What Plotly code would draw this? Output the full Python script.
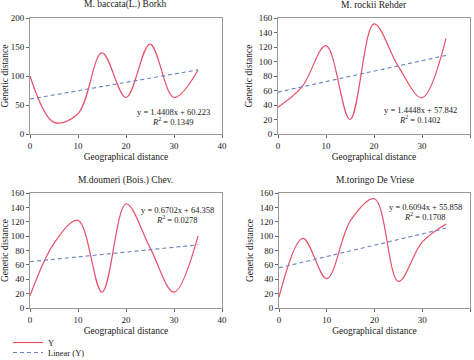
import plotly.graph_objects as go

W, H = 474, 360

x_vals = [0, 5, 10, 15, 20, 25, 30, 35]
titles = ["M. baccata(L.) Borkh", "M. rockii Rehder", "M.doumeri (Bois.) Chev.", "M.toringo De Vriese"]
y_baccata = [100, 20, 35, 140, 63, 155, 63, 110]
y_rockii = [37, 65, 122, 20, 152, 94, 50, 132]
y_doumeri = [17, 90, 122, 22, 145, 84, 22, 100]
y_toringo = [15, 97, 41, 122, 152, 37, 92, 117]
series = [y_baccata, y_rockii, y_doumeri, y_toringo]
eq_text = ["y = 1.4408x + 60.223", "y = 1.4448x + 57.842", "y = 0.6702x + 64.358", "y = 0.6094x + 55.858"]
r2_text = ["0.1349", "0.1402", "0.0278", "0.1708"]
# dashed trend line as drawn in the picture (start at x=0, end at x=35)
lin_x = [0, 35]
lin_start = [60.2, 57.8, 64.4, 55.9]
lin_end = [110.6, 108.4, 87.8, 111.0]
y_max = [200, 160, 160, 160]
y_dtick = [50, 20, 20, 20]

RED = "#e8506a"
BLUE = "#6b80c0"
FONT = "Liberation Serif"
TXT = "#222"

# plot areas in pixels (x0, x1, y_top, y_bottom)
boxes = [(30, 222, 18, 134), (278, 470, 18, 134), (30, 222, 193, 308), (279, 470, 193, 308)]

fig = go.Figure()
layout = {}
annotations = []
for i in range(4):
    n = i + 1
    xa = "x" if n == 1 else f"x{n}"
    ya = "y" if n == 1 else f"y{n}"
    fig.add_trace(go.Scatter(x=x_vals, y=series[i], mode="lines",
                             line=dict(color=RED, width=1.2, shape="spline", smoothing=1.0),
                             name="Y", showlegend=(i == 0), legend="legend",
                             xaxis=xa, yaxis=ya))
    fig.add_trace(go.Scatter(x=lin_x, y=[lin_start[i], lin_end[i]], mode="lines",
                             line=dict(color=BLUE, width=1.1, dash="4px,3px"),
                             name="Linear (Y)", showlegend=(i == 0), legend="legend2",
                             xaxis=xa, yaxis=ya))
    x0, x1, t, b = boxes[i]
    axcommon = dict(showline=True, mirror=True, linecolor="#999", linewidth=1,
                    ticks="outside", ticklen=3, tickcolor="#666", showgrid=False,
                    zeroline=False, tickfont=dict(family=FONT, size=9, color=TXT))
    layout["xaxis" if n == 1 else f"xaxis{n}"] = dict(
        domain=[x0 / W, x1 / W], range=[0, 40], dtick=10,
        anchor=ya, **axcommon,
        title=dict(text="Geographical distance", font=dict(family=FONT, size=9.5, color=TXT), standoff=3))
    layout["yaxis" if n == 1 else f"yaxis{n}"] = dict(
        domain=[1 - b / H, 1 - t / H], range=[0, y_max[i]], dtick=y_dtick[i],
        anchor=xa, **axcommon,
        title=dict(text="Genetic distance", font=dict(family=FONT, size=9.5, color=TXT), standoff=4))
    annotations.append(dict(text=titles[i], x=(x0 + x1) / 2 / W, y=1 - (t - 13) / H,
                            xref="paper", yref="paper", showarrow=False,
                            font=dict(family=FONT, size=9.5, color=TXT),
                            xanchor="center", yanchor="middle"))

# equation label centres in pixels: (x, y_line1, y_line2)
eq_pos = [(173, 112, 121), (420, 110, 119), (177, 210, 219), (425, 207, 216)]
for i in range(4):
    ex, ey1, ey2 = eq_pos[i]
    annotations.append(dict(text=eq_text[i], x=ex / W, y=1 - (ey1 - 0.5) / H, xref="paper", yref="paper",
                            showarrow=False, xanchor="center", yanchor="middle",
                            font=dict(family=FONT, size=8.5, color=TXT)))
    annotations.append(dict(text=f"<i>R</i><sup>2</sup> = {r2_text[i]}", x=ex / W, y=1 - (ey2 + 0.5) / H,
                            xref="paper", yref="paper",
                            showarrow=False, xanchor="center", yanchor="middle",
                            font=dict(family=FONT, size=8.5, color=TXT)))

legend_common = dict(xanchor="left", yanchor="top", font=dict(family=FONT, size=8.5, color=TXT),
                     itemwidth=30, bgcolor="rgba(0,0,0,0)")
fig.update_layout(
    width=W, height=H, margin=dict(l=0, r=0, t=0, b=0, autoexpand=False),
    paper_bgcolor="white", plot_bgcolor="white",
    annotations=annotations,
    legend=dict(x=8 / W, y=1 - 328 / H, **legend_common),
    legend2=dict(x=8 / W, y=1 - 338 / H, **legend_common),
    **layout,
)
fig.write_html("out.html", config={"displayModeBar": False},
               post_script="document.body.style.margin='0';")
